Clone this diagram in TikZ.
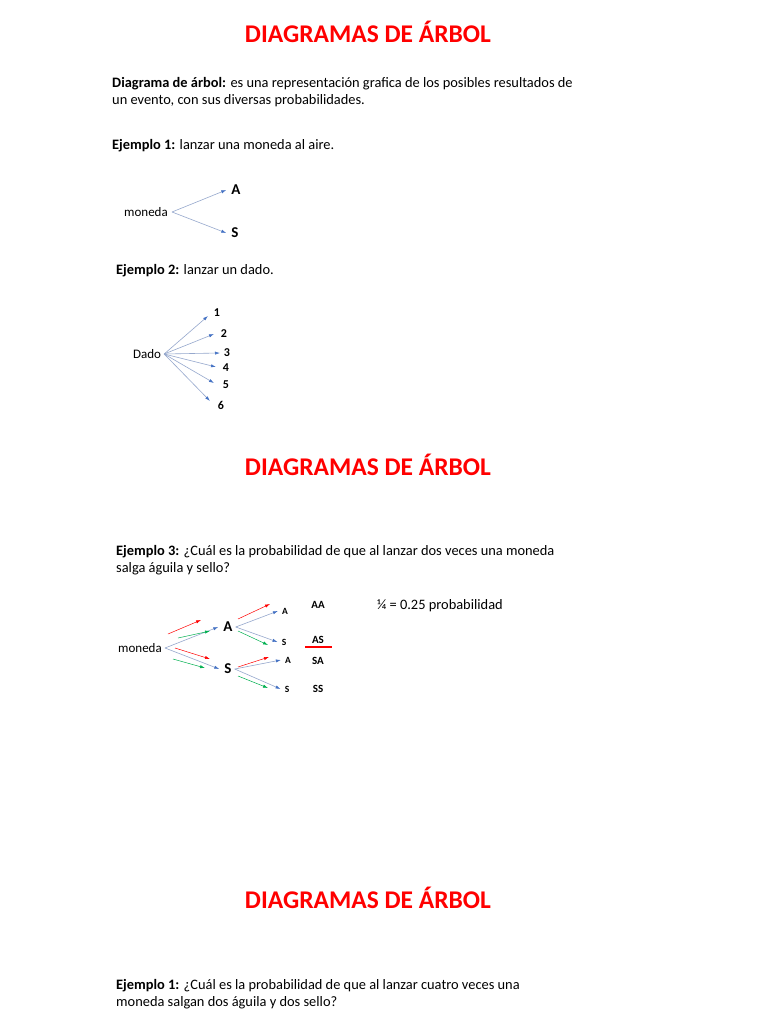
\documentclass[tikz,border=0pt]{standalone}
\usepackage{fontspec}
\setmainfont{Carlito}
\usetikzlibrary{arrows.meta,calc}
\definecolor{titlered}{RGB}{255,0,0}
\definecolor{tipblue}{RGB}{68,114,196}
\definecolor{lineblue}{RGB}{150,168,205}
\definecolor{treegreen}{RGB}{0,176,80}

\begin{document}
\begin{tikzpicture}[x=1pt,y=-1pt,
	title/.style={font=\fontsize{25.5}{30}\selectfont\bfseries,text=titlered},
	body/.style={anchor=base west,inner sep=0pt,font=\fontsize{14.4}{17}\selectfont},
	lbl/.style={inner sep=1pt,font=\fontsize{13}{15}\selectfont},
	big/.style={inner sep=1pt,font=\fontsize{15}{17}\selectfont\bfseries},
	small/.style={inner sep=1pt,font=\fontsize{12}{14}\selectfont\bfseries},
	tiny/.style={inner sep=1pt,font=\fontsize{9.5}{11}\selectfont\bfseries},
	barrow/.style={draw=lineblue,line width=0.6pt,-{Latex[color=tipblue,length=5pt,width=3.2pt]}},
	rarrow/.style={draw=red,line width=0.5pt,-{Latex[length=5pt,width=3.2pt]}},
	garrow/.style={draw=treegreen,line width=0.5pt,-{Latex[length=5pt,width=3.2pt]}}]

\useasboundingbox[fill=white] (0,0) rectangle (768,1024);

\node[title] (t1) at (368,32) {DIAGRAMAS DE ÁRBOL};
\node[title] (t2) at (368,465) {DIAGRAMAS DE ÁRBOL};
\node[title] (t3) at (368,898) {DIAGRAMAS DE ÁRBOL};

\node[body] (p1) at (112,88) {\textbf{Diagrama de árbol:} es una representación grafica de los posibles resultados de};
\node[body] (p2) at (112,105) {un evento, con sus diversas probabilidades.};
\node[body] (e1) at (112,150) {\textbf{Ejemplo 1:} lanzar una moneda al aire.};
\node[body] (e2) at (116,274) {\textbf{Ejemplo 2:} lanzar un dado.};
\node[body] (e3a) at (116,555) {\textbf{Ejemplo 3:} ¿Cuál es la probabilidad de que al lanzar dos veces una moneda};
\node[body] (e3b) at (116,572) {salga águila y sello?};
\node[body] (e4a) at (116,989) {\textbf{Ejemplo 1:} ¿Cuál es la probabilidad de que al lanzar cuatro veces una};
\node[body] (e4b) at (116,1006) {moneda salgan dos águila y dos sello?};

% ejemplo 1
\node[lbl] (mon1) at (146,212) {moneda};
\node[big] (a1) at (236,190) {A};
\node[big] (s1) at (235,233) {S};
\draw[barrow] ($(mon1.east)+(3,0)$) -- ($(a1.west)+(-4,0)$);
\draw[barrow] ($(mon1.east)+(3,0)$) -- ($(s1.west)+(-4,0)$);

% ejemplo 2
\node[lbl] (dado) at (147,354) {Dado};
\foreach \n/\x/\y in {1/217/313,2/224/334,3/227/353,4/226/368,5/226/385,6/221/405}{
	\node[small] (d\n) at (\x,\y) {\n};
}
\foreach \n/\x/\y in {1/208/316,2/214/334,3/220/353,4/216/367,5/214/383,6/210/401}{
	\coordinate (e\n) at (\x,\y);
	\draw[barrow] ($(dado.east)+(2,0)$) -- (e\n);
}

% ejemplo 3
\node[lbl] (mon3) at (140,648) {moneda};
\node[big] (A) at (228,627) {A};
\node[big] (S) at (228,669) {S};
\draw[barrow] ($(mon3.east)+(2,0)$) -- ($(A.west)+(-4,0)$);
\draw[barrow] ($(mon3.east)+(2,0)$) -- ($(S.west)+(-4,0)$);

\node[tiny] (AA) at (285,611) {A};
\node[tiny] (AS) at (284,642) {S};
\node[tiny] (SA) at (288,660) {A};
\node[tiny] (SS) at (287,689) {S};
\foreach \f/\t in {A/AA,A/AS,S/SA,S/SS}{
	\draw[barrow] ($(\f.east)+(2,0)$) -- ($(\t.west)+(-3,0)$);
}

\coordinate (r1a) at (168,634); \coordinate (r1b) at (201,620);
\coordinate (g1a) at (178,638); \coordinate (g1b) at (210,631);
\coordinate (r2a) at (175,648); \coordinate (r2b) at (210,659);
\coordinate (g2a) at (173,659); \coordinate (g2b) at (205,668);
\coordinate (r3a) at (238,619); \coordinate (r3b) at (270,604);
\coordinate (g3a) at (238,631); \coordinate (g3b) at (268,645);
\coordinate (r4a) at (238,667); \coordinate (r4b) at (269,657);
\coordinate (g4a) at (238,676); \coordinate (g4b) at (268,688);
\foreach \i in {1,...,4}{
	\draw[rarrow] (r\i a) -- (r\i b);
	\draw[garrow] (g\i a) -- (g\i b);
}

\node[tiny,font=\fontsize{11}{13}\selectfont\bfseries] (rAA) at (318,605) {AA};
\node[tiny,font=\fontsize{11}{13}\selectfont\bfseries] (rAS) at (318,640) {AS};
\node[tiny,font=\fontsize{11}{13}\selectfont\bfseries] (rSA) at (318,661) {SA};
\node[tiny,font=\fontsize{11}{13}\selectfont\bfseries] (rSS) at (318,689) {SS};
\draw[red,line width=1.3pt] ($(rAS.south)+(-13,2)$) -- ($(rAS.south)+(14,2)$);

\node[body] (prob) at (377,609) {¼ = 0.25 probabilidad};

\end{tikzpicture}
\end{document}
